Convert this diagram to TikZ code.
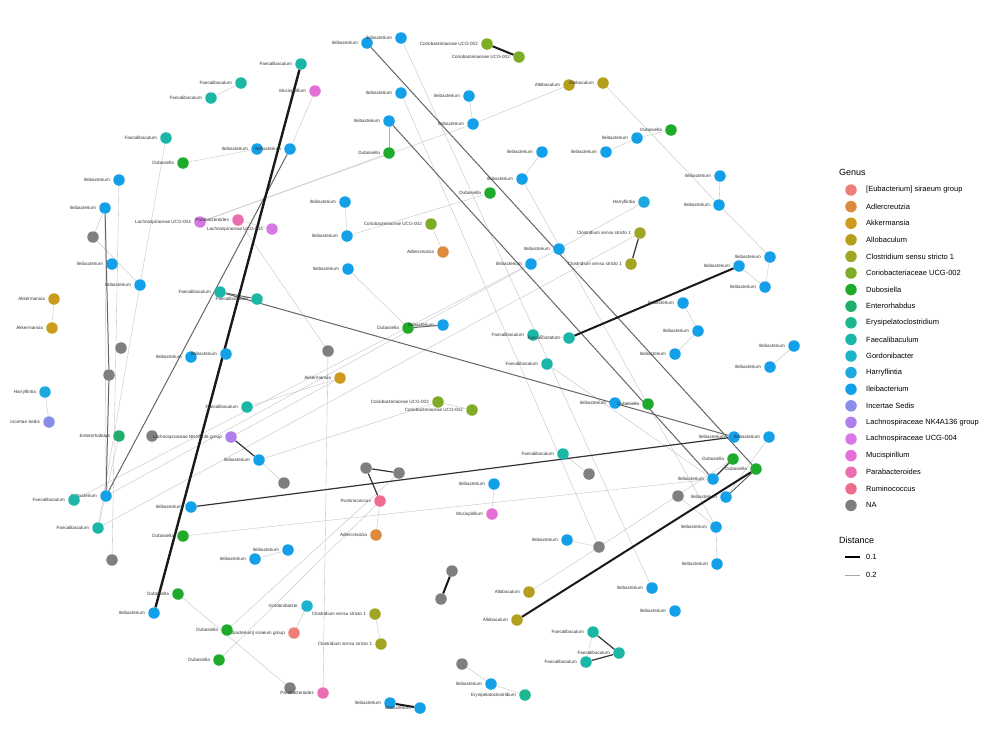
\documentclass[tikz,border=0pt]{standalone}
\usepackage{fontspec}
\setmainfont{Liberation Sans}
\definecolor{cEub}{HTML}{EC7F76}
\definecolor{cAdl}{HTML}{DC8A3C}
\definecolor{cAkk}{HTML}{CC9A1C}
\definecolor{cAllo}{HTML}{B49E1E}
\definecolor{cClos}{HTML}{A0A624}
\definecolor{cCor}{HTML}{7EAC24}
\definecolor{cDub}{HTML}{1EAA2A}
\definecolor{cEnt}{HTML}{20AE6A}
\definecolor{cEry}{HTML}{1CB690}
\definecolor{cFae}{HTML}{1CB6A6}
\definecolor{cGor}{HTML}{1CB4CA}
\definecolor{cHar}{HTML}{1FA8E0}
\definecolor{cIle}{HTML}{14A0E8}
\definecolor{cInc}{HTML}{8A8EEA}
\definecolor{cLN}{HTML}{B080EA}
\definecolor{cLU}{HTML}{D878E6}
\definecolor{cMuc}{HTML}{E46ED6}
\definecolor{cPar}{HTML}{EC6EB2}
\definecolor{cRum}{HTML}{EE6C8E}
\definecolor{cNA}{HTML}{7F7F7F}
\pgfdeclarelayer{bg}
\pgfsetlayers{bg,main}
\tikzset{
 dot/.style={circle,inner sep=0pt,minimum size=11.5pt,draw=none},
 lab/.style={font=\fontsize{4.6}{5.5}\selectfont,text=black!80,inner sep=0pt},
 ethick/.style={draw=black!90,line width=2pt},
 emed/.style={draw=black!80,line width=1.2pt},
 egray/.style={draw=black!60,line width=1pt},
 elight/.style={draw=black!30,line width=1pt},
 ethin/.style={draw=black!25,line width=0.35pt},
 legt/.style={font=\fontsize{7.5}{9}\selectfont,anchor=west,inner sep=0pt},
 legh/.style={font=\fontsize{9}{11}\selectfont,anchor=west,inner sep=0pt}
}
\newcommand\gn[5]{\node[dot,fill=#4] (#1) at (#2,#3) {};\node[lab,anchor=east] at ([xshift=-3pt]#1.west) {#5};}
\newcommand\gx[4]{\node[dot,fill=#4] (#1) at (#2,#3) {};}
\begin{document}
\begin{tikzpicture}[x=1pt,y=-1pt]
\begin{pgfonlayer}{bg}
\fill[white] (0,0) rectangle (1000,750);
\end{pgfonlayer}
\useasboundingbox (0,0) rectangle (1000,750);
% top left
\gn{a1}{367}{43}{cIle}{Ileibacterium}
\gn{a2}{401}{38}{cIle}{Ileibacterium}
\gn{a3}{301}{64}{cFae}{Faecalibaculum}
\gn{a4}{241}{83}{cFae}{Faecalibaculum}
\gn{a5}{211}{98}{cFae}{Faecalibaculum}
\gn{a6}{315}{91}{cMuc}{Mucispirillum}
\gn{a7}{401}{93}{cIle}{Ileibacterium}
\gn{a8}{389}{121}{cIle}{Ileibacterium}
\gn{a9}{389}{153}{cDub}{Dubosiella}
\gn{a10}{166}{138}{cFae}{Faecalibaculum}
\gn{a11}{183}{163}{cDub}{Dubosiella}
\gn{a12}{257}{149}{cIle}{Ileibacterium}
\gn{a13}{290}{149}{cIle}{Ileibacterium}
\gn{a14}{119}{180}{cIle}{Ileibacterium}
\gn{a15}{105}{208}{cIle}{Ileibacterium}
\gx{a16}{93}{237}{cNA}
\gn{a17}{200}{222}{cLU}{Lachnospiraceae UCG-004}
\gn{a18}{238}{220}{cPar}{Parabacteroides}
\gn{a19}{272}{229}{cLU}{Lachnospiraceae UCG-004}
\gn{a20}{112}{264}{cIle}{Ileibacterium}
\gn{a21}{140}{285}{cIle}{Ileibacterium}
\gn{a22}{54}{299}{cAkk}{Akkermansia}
\gn{a23}{52}{328}{cAkk}{Akkermansia}
\gx{a24}{121}{348}{cNA}
\gx{a25}{109}{375}{cNA}
\gn{a26}{220}{292}{cFae}{Faecalibaculum}
\gn{a27}{257}{299}{cFae}{Faecalibaculum}
\gn{a28}{191}{357}{cIle}{Ileibacterium}
\gn{a29}{226}{354}{cIle}{Ileibacterium}
\gn{a30}{345}{202}{cIle}{Ileibacterium}
\gn{a31}{347}{236}{cIle}{Ileibacterium}
\gn{a32}{348}{269}{cIle}{Ileibacterium}
\gx{a33}{328}{351}{cNA}
\gn{a34}{408}{328}{cDub}{Dubosiella}
\gn{a35}{340}{378}{cAkk}{Akkermansia}
% top right
\gn{b1}{487}{44}{cCor}{Coriobacteriaceae UCG-002}
\gn{b2}{519}{57}{cCor}{Coriobacteriaceae UCG-002}
\gn{b3}{569}{85}{cAllo}{Allobaculum}
\gn{b4}{603}{83}{cAllo}{Allobaculum}
\gn{b5}{469}{96}{cIle}{Ileibacterium}
\gn{b6}{473}{124}{cIle}{Ileibacterium}
\gn{b7}{671}{130}{cDub}{Dubosiella}
\gn{b8}{637}{138}{cIle}{Ileibacterium}
\gn{b9}{606}{152}{cIle}{Ileibacterium}
\gn{b10}{542}{152}{cIle}{Ileibacterium}
\gn{b11}{522}{179}{cIle}{Ileibacterium}
\gn{b12}{490}{193}{cDub}{Dubosiella}
\gn{b13}{720}{176}{cIle}{Ileibacterium}
\gn{b14}{719}{205}{cIle}{Ileibacterium}
\gn{b15}{644}{202}{cHar}{Harryflintia}
\gn{b16}{640}{233}{cClos}{Clostridium sensu stricto 1}
\gn{b17}{631}{264}{cClos}{Clostridium sensu stricto 1}
\gn{b18}{559}{249}{cIle}{Ileibacterium}
\gn{b19}{531}{264}{cIle}{Ileibacterium}
\gn{b20}{431}{224}{cCor}{Coriobacteriaceae UCG-002}
\gn{b21}{443}{252}{cAdl}{Adlercreutzia}
\gn{b22}{770}{257}{cIle}{Ileibacterium}
\gn{b23}{739}{266}{cIle}{Ileibacterium}
\gn{b24}{765}{287}{cIle}{Ileibacterium}
\gn{b25}{683}{303}{cIle}{Ileibacterium}
\gn{b26}{698}{331}{cIle}{Ileibacterium}
\gn{b27}{675}{354}{cIle}{Ileibacterium}
\gn{b28}{794}{346}{cIle}{Ileibacterium}
\gn{b29}{770}{367}{cIle}{Ileibacterium}
\gn{b30}{443}{325}{cIle}{Ileibacterium}
\gn{b31}{533}{335}{cFae}{Faecalibaculum}
\gn{b32}{569}{338}{cFae}{Faecalibaculum}
\gn{b33}{547}{364}{cFae}{Faecalibaculum}
% bottom left
\gn{c1}{45}{392}{cHar}{Harryflintia}
\gn{c2}{49}{422}{cInc}{Incertae Sedis}
\gn{c3}{119}{436}{cEnt}{Enterorhabdus}
\gx{c4}{152}{436}{cNA}
\gn{c5}{247}{407}{cFae}{Faecalibaculum}
\gn{c6}{231}{437}{cLN}{Lachnospiraceae NK4A136 group}
\gn{c7}{259}{460}{cIle}{Ileibacterium}
\gx{c8}{284}{483}{cNA}
\gx{c9}{366}{468}{cNA}
\gx{c10}{399}{473}{cNA}
\gn{c11}{380}{501}{cRum}{Ruminococcus}
\gn{c12}{376}{535}{cAdl}{Adlercreutzia}
\gn{c13}{106}{496}{cIle}{Ileibacterium}
\gn{c14}{74}{500}{cFae}{Faecalibaculum}
\gn{c15}{98}{528}{cFae}{Faecalibaculum}
\gn{c16}{191}{507}{cIle}{Ileibacterium}
\gn{c17}{183}{536}{cDub}{Dubosiella}
\gn{c18}{288}{550}{cIle}{Ileibacterium}
\gn{c19}{255}{559}{cIle}{Ileibacterium}
\gx{c20}{112}{560}{cNA}
\gn{c21}{178}{594}{cDub}{Dubosiella}
\gn{c22}{154}{613}{cIle}{Ileibacterium}
\gn{c23}{307}{606}{cGor}{Gordonibacter}
\gn{c24}{294}{633}{cEub}{[Eubacterium] siraeum group}
\gn{c25}{227}{630}{cDub}{Dubosiella}
\gn{c26}{219}{660}{cDub}{Dubosiella}
\gn{c27}{375}{614}{cClos}{Clostridium sensu stricto 1}
\gn{c28}{381}{644}{cClos}{Clostridium sensu stricto 1}
\gx{c29}{290}{688}{cNA}
\gn{c30}{323}{693}{cPar}{Parabacteroides}
\gn{c31}{390}{703}{cIle}{Ileibacterium}
\gn{c32}{420}{708}{cIle}{Ileibacterium}
% bottom right
\gn{d1}{438}{402}{cCor}{Coriobacteriaceae UCG-002}
\gn{d2}{472}{410}{cCor}{Coriobacteriaceae UCG-002}
\gn{d3}{615}{403}{cIle}{Ileibacterium}
\gn{d4}{648}{404}{cDub}{Dubosiella}
\gn{d5}{734}{437}{cIle}{Ileibacterium}
\gn{d6}{769}{437}{cIle}{Ileibacterium}
\gn{d7}{733}{459}{cDub}{Dubosiella}
\gn{d8}{756}{469}{cDub}{Dubosiella}
\gn{d9}{713}{479}{cIle}{Ileibacterium}
\gx{d10}{678}{496}{cNA}
\gn{d11}{726}{497}{cIle}{Ileibacterium}
\gn{d12}{563}{454}{cFae}{Faecalibaculum}
\gx{d13}{589}{474}{cNA}
\gn{d14}{494}{484}{cIle}{Ileibacterium}
\gn{d15}{492}{514}{cMuc}{Mucispirillum}
\gn{d16}{716}{527}{cIle}{Ileibacterium}
\gn{d17}{717}{564}{cIle}{Ileibacterium}
\gn{d18}{567}{540}{cIle}{Ileibacterium}
\gx{d19}{599}{547}{cNA}
\gx{d20}{452}{571}{cNA}
\gx{d21}{441}{599}{cNA}
\gn{d22}{529}{592}{cAllo}{Allobaculum}
\gn{d23}{517}{620}{cAllo}{Allobaculum}
\gn{d24}{652}{588}{cIle}{Ileibacterium}
\gn{d25}{675}{611}{cIle}{Ileibacterium}
\gn{d26}{593}{632}{cFae}{Faecalibaculum}
\gn{d27}{619}{653}{cFae}{Faecalibaculum}
\gn{d28}{586}{662}{cFae}{Faecalibaculum}
\gx{d29}{462}{664}{cNA}
\gn{d30}{491}{684}{cIle}{Ileibacterium}
\gn{d31}{525}{695}{cEry}{Erysipelatoclostridium}
\begin{pgfonlayer}{bg}
\foreach \u/\v in {a4/a5,a6/a13,a10/a21,a21/c15,a11/a12,a14/c20,a15/a16,a16/a21,c3/c15,a22/a23,c1/c2,a18/a19,a18/a33,a17/b6,a30/a31,a32/a34,a33/c30,a35/c5,a35/c6,d1/d2,d1/c7,c7/c8,b15/b18,b18/c14,b16/c15,b19/c13,a7/d19,a2/d24,b11/d16,b5/b6,b6/b3,b4/b14,b13/b14,b14/b22,b22/b24,b23/b24,b7/b8,b8/b9,b10/b11,b12/a31,b20/b21,b25/b26,b26/b27,b28/b29,b31/b32,d3/d4,d6/d11,d12/d13,d14/d15,c17/d9,c11/c12,c10/c25,c11/c26,c21/c29,c23/c24,c27/c28,c18/c19,d29/d30,d30/d31,d18/d19,d19/d22,d19/d7,d16/d17,d10/d16,d26/d28,b33/d9,a9/a17,c13/a15}
 \draw[ethin] (\u) -- (\v);
\foreach \u/\v in {a1/d8,a8/d9,a26/d5,a13/c13,a15/a25,a25/c13,a26/a27,a34/b30,d8/d11}
 \draw[egray] (\u) -- (\v);
\draw[elight] (a8) -- (a9);
\foreach \u/\v in {c16/d5,b16/b17,c6/c7,c9/c10,c9/c11,d26/d27,d27/d28,d7/d9}
 \draw[emed] (\u) -- (\v);
\foreach \u/\v in {b1/b2,b32/b23,d23/d8,d20/d21,c31/c32}
 \draw[ethick] (\u) -- (\v);
\draw[ethick,line width=2.4pt] (a3) -- (c22);
\end{pgfonlayer}
% legend
\node[legh] (gt) at (839,172) {Genus};
\foreach \c/\t [count=\i from 0] in {cEub/{[Eubacterium] siraeum group},cAdl/Adlercreutzia,cAkk/Akkermansia,cAllo/Allobaculum,cClos/Clostridium sensu stricto 1,cCor/Coriobacteriaceae UCG-002,cDub/Dubosiella,cEnt/Enterorhabdus,cEry/Erysipelatoclostridium,cFae/Faecalibaculum,cGor/Gordonibacter,cHar/Harryflintia,cIle/Ileibacterium,cInc/Incertae Sedis,cLN/Lachnospiraceae NK4A136 group,cLU/Lachnospiraceae UCG-004,cMuc/Mucispirillum,cPar/Parabacteroides,cRum/Ruminococcus,cNA/NA}{
 \node[dot,fill=\c] (lg\i) at (851,{190+16.6*\i}) {};
 \node[legt] at (866,{190+16.6*\i}) {\t};
}
\node[legh] (dt) at (839,540) {Distance};
\coordinate (l1a) at (845,557); \coordinate (l1b) at (860,557);
\coordinate (l2a) at (845,575); \coordinate (l2b) at (860,575);
\draw[draw=black,line width=1.3pt] (l1a) -- (l1b);
\draw[draw=black!35,line width=0.4pt] (l2a) -- (l2b);
\node[legt] at (866,557) {0.1};
\node[legt] at (866,575) {0.2};
\end{tikzpicture}
\end{document}
